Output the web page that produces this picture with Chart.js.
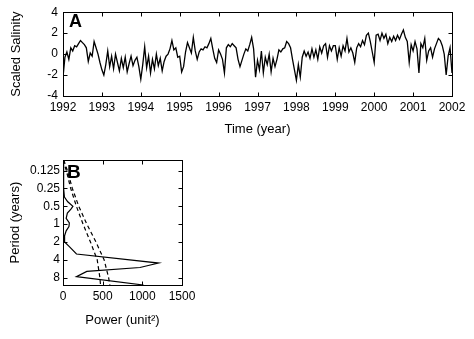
<!DOCTYPE html>
<html><head><meta charset="utf-8">
<script src="https://cdn.jsdelivr.net/npm/chart.js@4.4.1/dist/chart.umd.min.js"></script>
<style>
html,body{margin:0;padding:0;background:#fff;width:474px;height:339px;overflow:hidden}
#a{position:absolute;left:0;top:0}
#b{position:absolute;left:0;top:150px}
</style></head><body>
<canvas id="a" width="474" height="150"></canvas>
<canvas id="b" width="200" height="189"></canvas>
<script>
// ---- Panel A: scaled salinity time series (20 samples per year) ----
const startYear = 1992;
const sampleStep = 0.05;
const salinity = [
  -2.2,-0.3, 0.2,-0.5, 0.6, 0.3, 0.8, 0.7, 1.0, 1.3, 1.1, 0.9, 0.6,-0.7, 0.1,-0.2, 1.2, 0.6, 0.0,-0.8, // 1992
  -1.5,-2.0,-1.0, 0.3,-1.2,-0.2,-1.4, 0.0,-0.8,-1.6,-0.4,-1.3,-0.3,-1.7,-0.9,-0.2,-1.1,-0.6,-0.3,-1.2, // 1993
  -2.4,-1.0, 0.7,-1.3,-0.2,-1.8,-0.5,-1.4, 0.0,-1.1,-0.4,-1.6,-0.7,-0.2, 0.0, 0.5, 1.3, 0.4, 0.6,-0.3, // 1994
  -0.2,-1.7,-1.2, 0.2, 1.1, 0.6, 0.1, 1.6, 0.3,-0.5, 0.2, 0.5, 0.4, 0.7, 0.6, 1.0, 1.5, 0.5,-0.4,-0.8, // 1995
   0.4, 0.0,-0.5,-1.8, 0.6, 0.9, 0.7, 1.0, 0.8, 0.6,-0.5,-1.2,-0.6, 0.0, 0.5, 0.3, 0.9, 1.6, 0.5,-2.2, // 1996
  -0.6,-1.5, 0.3,-1.8,-0.3,-1.0, 0.0,-1.7,-0.4,-1.2,-0.5, 0.4, 0.2, 0.5, 0.6, 1.2, 1.0, 0.6,-0.5,-1.5, // 1997
  -2.5,-1.0,-2.2,-0.3, 0.3,-0.2, 0.2,-0.4, 0.5,-0.3, 0.4,-0.5, 0.7, 0.1, 0.8, 1.0,-0.3, 0.8, 0.3, 0.8, // 1998
   0.8,-0.5, 0.6,-0.2, 0.8, 0.3, 1.5, 0.2, 0.6, 0.1,-0.8, 0.6, 1.0, 0.7, 1.3, 0.9, 1.8, 2.0, 1.2, 0.2, // 1999
  -0.8, 1.8, 1.9, 1.3, 2.0, 1.5, 1.9, 1.0, 1.6, 1.2, 1.7, 1.3, 1.8, 1.4, 1.9, 2.3, 1.6, 1.2,-0.8, 0.9, // 2000
   0.3, 1.2, 0.5,-1.8, 1.0, 0.6, 1.5,-0.6, 0.3, 0.6,-0.3, 0.5, 1.0, 1.5, 1.3, 0.8, 0.0,-2.0,-0.2, 0.6, // 2001
  -1.8 // 2002
];
const yearTicks = [1992,1993,1994,1995,1996,1997,1998,1999,2000,2001,2002];
const salinityTicks = [-4,-2,0,2,4];

// ---- Panel B: power spectrum ----
const periodTicks = [0.125,0.25,0.5,1,2,4,8];
const powerTicks = [0,500,1000,1500];
const spectrumPeriod = [0.083,0.15,0.25,0.35,0.42,0.5,0.56,0.65,0.8,0.95,1.1,1.3,1.6,2.0,2.4,3.2,4.55,5.4,6.3,7.7,10.67];
const spectrumPower  = [3,6,10,18,60,125,100,55,40,80,75,40,18,20,80,170,1205,970,300,170,1015];
const conf1Period = [0.083,0.125,0.25,0.5,1,2,4,8,10.67];
const conf1Power  = [0,42,97,169,253,346,431,465,473];
const conf2Period = [0.083,0.125,0.25,0.5,1,2,4,8,10.67];
const conf2Power  = [10,55,118,199,300,415,518,575,590];

const FONT = 'Liberation Sans, Arial, Helvetica, sans-serif';

const framePlugin = {
  id: 'frame',
  afterDraw(chart, args, opts) {
    const {ctx, chartArea: a, scales} = chart;
    ctx.save();
    ctx.strokeStyle = '#000';
    ctx.lineWidth = 1;
    const L = Math.round(a.left) + 0.5, R = Math.round(a.right) + 0.5;
    const T = Math.round(a.top) + 0.5, B = Math.round(a.bottom) + 0.5;
    ctx.strokeRect(L, T, R - L, B - T);
    const tl = 4;
    ctx.beginPath();
    scales.x.ticks.forEach(t => {
      const p = Math.round(scales.x.getPixelForValue(t.value)) + 0.5;
      ctx.moveTo(p, B); ctx.lineTo(p, B - tl);
      ctx.moveTo(p, T); ctx.lineTo(p, T + tl);
    });
    scales.y.ticks.forEach(t => {
      const p = Math.round(scales.y.getPixelForValue(t.value)) + 0.5;
      ctx.moveTo(L, p); ctx.lineTo(L + tl, p);
      ctx.moveTo(R, p); ctx.lineTo(R - tl, p);
    });
    ctx.stroke();
    ctx.fillStyle = '#000';
    ctx.font = 'bold ' + opts.size + 'px ' + FONT;
    ctx.textBaseline = 'alphabetic';
    ctx.textAlign = 'left';
    ctx.fillText(opts.letter, opts.x, opts.y);
    ctx.restore();
  }
};

const tickFont = {family: FONT, size: 12};
const titleFont = {family: FONT, size: 13};

new Chart(document.getElementById('a'), {
  type: 'scatter',
  data: {datasets: [{
    data: salinity.map((v, i) => ({x: startYear + i * sampleStep, y: v})),
    showLine: true, borderColor: '#000', borderWidth: 1.3, pointRadius: 0, tension: 0
  }]},
  options: {
    responsive: false, animation: false, devicePixelRatio: 1,
    layout: {padding: {top: 7, right: 22, left: 0, bottom: 0}},
    plugins: {legend: {display: false}, tooltip: {enabled: false},
      frame: {letter: 'A', x: 69, y: 27, size: 18}},
    scales: {
      x: {type: 'linear', min: yearTicks[0], max: yearTicks[yearTicks.length - 1],
        afterFit(s) { s.height = 54; },
        afterBuildTicks(s) { s.ticks = yearTicks.map(v => ({value: v})); },
        grid: {display: false, drawTicks: false}, border: {display: false},
        ticks: {padding: 4, color: '#000', font: tickFont, callback: v => String(v), maxRotation: 0, autoSkip: false},
        title: {display: true, text: 'Time (year)', color: '#000', font: titleFont, padding: {top: 0, bottom: 13}}},
      y: {type: 'linear', min: -4, max: 4,
        afterFit(s) { s.width = 63; },
        afterBuildTicks(s) { s.ticks = salinityTicks.map(v => ({value: v})); },
        grid: {display: false, drawTicks: false}, border: {display: false},
        ticks: {padding: 5, color: '#000', font: tickFont, callback: v => String(v)},
        title: {display: true, text: 'Scaled Salinity', color: '#000', font: titleFont, padding: {top: 9, bottom: 0}}}
    }
  },
  plugins: [framePlugin]
});

const mk = (per, pow) => per.map((p, i) => ({x: pow[i], y: p}));

new Chart(document.getElementById('b'), {
  type: 'scatter',
  data: {datasets: [
    {data: mk(spectrumPeriod, spectrumPower), showLine: true, borderColor: '#000', borderWidth: 1.2, pointRadius: 0, tension: 0},
    {data: mk(conf1Period, conf1Power), showLine: true, borderColor: '#000', borderWidth: 1.2, borderDash: [4, 3], pointRadius: 0, tension: 0},
    {data: mk(conf2Period, conf2Power), showLine: true, borderColor: '#000', borderWidth: 1.2, borderDash: [4, 3], pointRadius: 0, tension: 0}
  ]},
  options: {
    responsive: false, animation: false, devicePixelRatio: 1,
    layout: {padding: {top: 10, right: 18, left: 0, bottom: 0}},
    plugins: {legend: {display: false}, tooltip: {enabled: false},
      frame: {letter: 'B', x: 67, y: 28, size: 19}},
    scales: {
      x: {type: 'linear', min: 0, max: 1500,
        afterFit(s) { s.height = 54; },
        afterBuildTicks(s) { s.ticks = powerTicks.map(v => ({value: v})); },
        grid: {display: false, drawTicks: false}, border: {display: false},
        ticks: {padding: 4, color: '#000', font: tickFont, callback: v => String(v), maxRotation: 0, autoSkip: false},
        title: {display: true, text: 'Power (unit²)', color: '#000', font: titleFont, padding: {top: 0, bottom: 11}}},
      y: {type: 'logarithmic', min: 1/12, max: 128/12, reverse: true,
        afterFit(s) { s.width = 63; },
        afterBuildTicks(s) { s.ticks = periodTicks.map(v => ({value: v})); },
        grid: {display: false, drawTicks: false}, border: {display: false},
        ticks: {padding: 3, color: '#000', font: tickFont, callback: v => String(v), autoSkip: false},
        title: {display: true, text: 'Period (years)', color: '#000', font: titleFont, padding: {top: 8, bottom: 0}}}
    }
  },
  plugins: [framePlugin]
});
</script>
</body></html>
